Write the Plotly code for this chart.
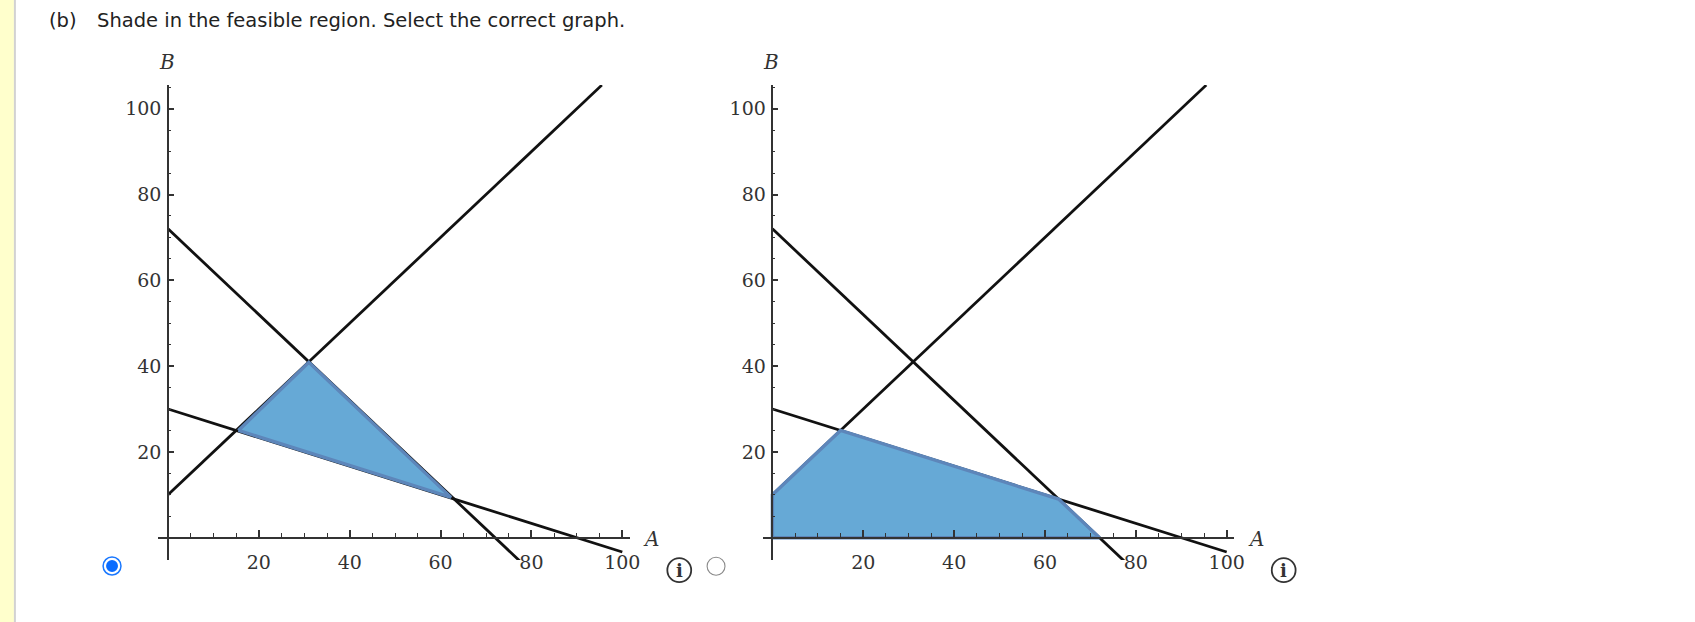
import plotly.graph_objects as go

W, H = 1695, 622
# ---- data ----
line1_a = [0, 100]
line1_b = [30, -3.33]
line2_a = [0, 78]
line2_b = [72, -6]
line3_a = [0, 95.5]
line3_b = [10, 105.5]
region_left_a = [15.5, 31, 62.3, 15.5]
region_left_b = [25, 40.9, 9.4, 25]
region_right_a = [0, 0, 15, 63, 72, 0]
region_right_b = [0, 10, 25, 9, 0, 0]
tick_labels_a = [20, 40, 60, 80, 100]
tick_labels_b = [20, 40, 60, 80, 100]

X_RANGE = [-2.1, 101.7]
Y_RANGE = [-5.2, 105.5]
PX_X = 4.57
PX_Y = 4.29
ZERO_Y = 537.7
ZERO_X = [169, 777]

def xp(px): return px / W
def yp(px): return 1 - px / H

fig = go.Figure()
layout = {}
BLACK = "#111111"
TICK = "#333333"
for i, (x0, region_a, region_b) in enumerate(zip(ZERO_X, [region_left_a, region_right_a], [region_left_b, region_right_b])):
    xn = "x" if i == 0 else "x2"
    yn = "y" if i == 0 else "y2"
    for a, b in [(line1_a, line1_b), (line2_a, line2_b), (line3_a, line3_b)]:
        fig.add_trace(go.Scatter(x=a, y=b, xaxis=xn, yaxis=yn, mode="lines", cliponaxis=False,
                                 line=dict(color=BLACK, width=2.8), hoverinfo="skip", showlegend=False))
    fig.add_trace(go.Scatter(x=region_a, y=region_b, xaxis=xn, yaxis=yn, mode="lines", fill="toself", cliponaxis=False,
                             fillcolor="#66a9d6", line=dict(color="#5d86ba", width=3.4), hoverinfo="skip", showlegend=False))
    xkey = "xaxis" if i == 0 else "xaxis2"
    ykey = "yaxis" if i == 0 else "yaxis2"
    layout[xkey] = dict(
        domain=[xp(x0 + X_RANGE[0] * PX_X), xp(x0 + X_RANGE[1] * PX_X)], range=X_RANGE,
        anchor="free", position=yp(ZERO_Y), side="bottom", showgrid=False, zeroline=False, showline=True,
        linecolor=TICK, linewidth=1.5, ticks="inside", ticklen=7, tickwidth=1.5, tickcolor=TICK,
        tickvals=tick_labels_a, ticktext=[str(v) for v in tick_labels_a], ticklabelstandoff=8,
        tickfont=dict(family="DejaVu Serif", size=19, color="#333333"),
        minor=dict(ticks="inside", ticklen=4, tickwidth=1.2, tickcolor=TICK, dtick=5, tick0=0),
    )
    layout[ykey] = dict(
        domain=[yp(ZERO_Y - Y_RANGE[0] * PX_Y), yp(ZERO_Y - Y_RANGE[1] * PX_Y)], range=Y_RANGE,
        anchor="free", position=xp(x0), side="left", showgrid=False, zeroline=False, showline=True,
        linecolor=TICK, linewidth=1.5, ticks="inside", ticklen=5, tickwidth=1.5, tickcolor=TICK,
        tickvals=tick_labels_b, ticktext=[str(v) for v in tick_labels_b], ticklabelstandoff=2,
        tickfont=dict(family="DejaVu Serif", size=19, color="#333333"),
        minor=dict(ticks="inside", ticklen=2, tickwidth=1.2, tickcolor=TICK, dtick=5, tick0=0),
    )

title_font = dict(family="DejaVu Sans", size=19.5, color="#222222")
anns = [
    dict(xref="paper", yref="paper", x=xp(47.5), y=yp(21), text="(b)", showarrow=False, xanchor="left", yanchor="middle", font=title_font),
    dict(xref="paper", yref="paper", x=xp(95.5), y=yp(21), text="Shade in the feasible region. Select the correct graph.",
         showarrow=False, xanchor="left", yanchor="middle", font=title_font),
]
for x0 in ZERO_X:
    anns.append(dict(xref="paper", yref="paper", x=xp(x0 - 1), y=yp(62), text="<i>B</i>", showarrow=False,
                     xanchor="center", yanchor="middle", font=dict(family="DejaVu Serif", size=20, color="#333333")))
    anns.append(dict(xref="paper", yref="paper", x=xp(x0 + 486), y=yp(539), text="<i>A</i>", showarrow=False,
                     xanchor="center", yanchor="middle", font=dict(family="DejaVu Serif", size=20, color="#333333")))
    anns.append(dict(xref="paper", yref="paper", x=xp(x0 + 514.3), y=yp(570), text="<b>i</b>", showarrow=False,
                     xanchor="center", yanchor="middle", font=dict(family="DejaVu Serif", size=18, color="#333333")))

def circle(cx, cy, r, **kw):
    return dict(type="circle", xref="paper", yref="paper", x0=xp(cx - r), x1=xp(cx + r), y0=yp(cy + r), y1=yp(cy - r), **kw)

shapes = [
    dict(type="rect", xref="paper", yref="paper", x0=0, x1=xp(14), y0=0, y1=1, fillcolor="#ffffcc", line_width=0, layer="below"),
    dict(type="rect", xref="paper", yref="paper", x0=xp(14), x1=xp(16), y0=0, y1=1, fillcolor="#d2d2d2", line_width=0, layer="below"),
    circle(112.7, 566, 9, fillcolor="white", line=dict(color="#1a78ff", width=1.5)),
    circle(112.7, 566, 6, fillcolor="#0a6cff", line_width=0),
    circle(720.3, 566.3, 9, fillcolor="white", line=dict(color="#8a8a8a", width=1.1)),
]
for x0 in ZERO_X:
    shapes.append(circle(x0 + 514.3, 570.2, 12, fillcolor="rgba(0,0,0,0)", line=dict(color="#333333", width=1.8)))

fig.update_layout(width=W, height=H, margin=dict(l=0, r=0, t=0, b=0), paper_bgcolor="white", plot_bgcolor="rgba(0,0,0,0)",
                  showlegend=False, annotations=anns, shapes=shapes, **layout)
fig.write_html("out.html", post_script="document.body.style.margin='0';document.documentElement.style.overflow='hidden';", config={"displayModeBar": False})
